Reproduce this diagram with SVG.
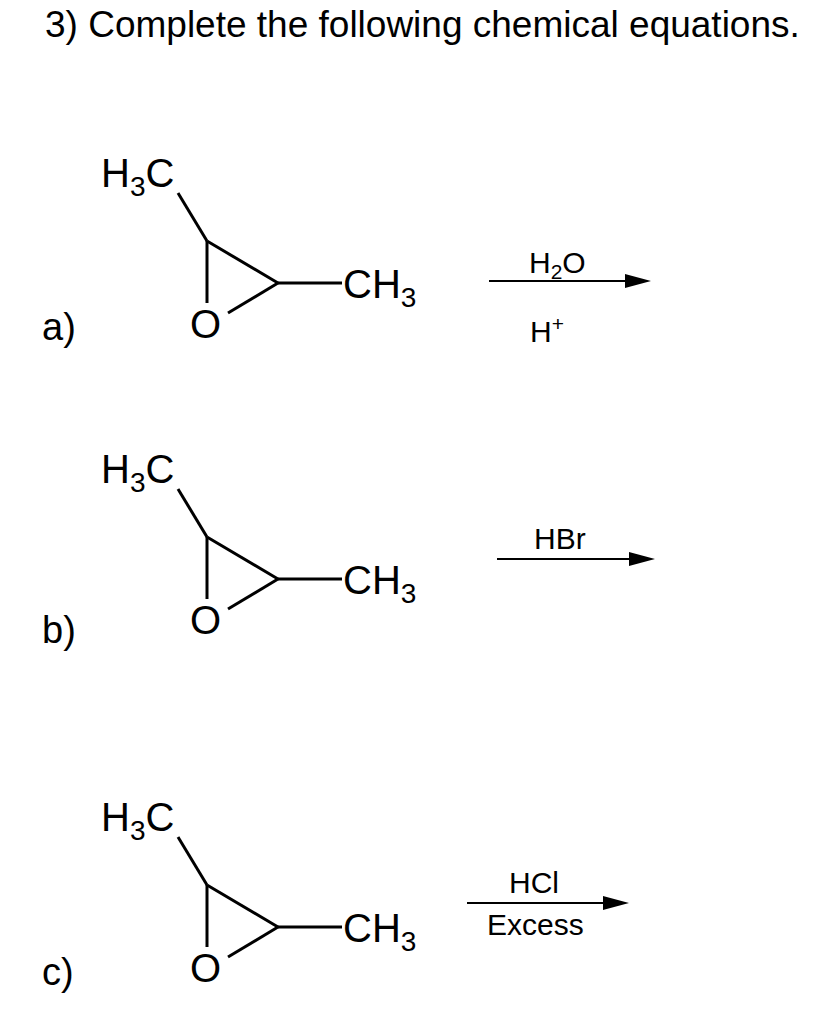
<svg xmlns="http://www.w3.org/2000/svg" width="826" height="1024" viewBox="0 0 826 1024">
<style>
text{font-family:"Liberation Sans",Arial,sans-serif;fill:#000}
.m{font-size:40px}
.r{font-size:30px}
.l{font-size:38px}
line{stroke:#000;stroke-width:3}
.a{stroke-width:2}
</style>
<defs>
<marker id="ah" markerWidth="26" markerHeight="14" refX="1" refY="7" orient="auto" markerUnits="userSpaceOnUse"><path d="M0,0 L26,7 L0,14 Z" fill="#000"/></marker>
<g id="epox">
<text class="m" x="101" y="187">H<tspan font-size="28" dy="9">3</tspan><tspan dy="-9">C</tspan></text>
<line x1="178" y1="193" x2="207" y2="241"/>
<line x1="207" y1="241" x2="278" y2="283"/>
<line x1="207" y1="241" x2="207" y2="303"/>
<line x1="228" y1="313" x2="278" y2="283"/>
<line x1="278" y1="283" x2="342" y2="283"/>
<text class="m" x="190" y="338">O</text>
<text class="m" x="343" y="298">CH<tspan font-size="28" dy="9">3</tspan></text>
</g>
</defs>
<text x="45" y="37" font-size="37">3) Complete the following chemical equations.</text>
<g id="mol-a"><use href="#epox"/></g>
<g id="mol-b"><use href="#epox" transform="translate(0,296)"/></g>
<g id="mol-c"><use href="#epox" transform="translate(0,644)"/></g>
<text class="l" x="42" y="340">a)</text>
<text class="l" x="42" y="643">b)</text>
<text class="l" x="42" y="985">c)</text>
<g id="connectors">
<line class="a" x1="489" y1="281" x2="626" y2="281" marker-end="url(#ah)"/>
<line class="a" x1="497" y1="559" x2="630" y2="559" marker-end="url(#ah)"/>
<line class="a" x1="467" y1="903" x2="604" y2="903" marker-end="url(#ah)"/>
</g>
<g id="labels">
<text class="r" x="529" y="273">H<tspan font-size="21" dy="6">2</tspan><tspan dy="-6">O</tspan></text>
<text class="r" x="530" y="342">H<tspan font-size="21" dy="-11">+</tspan></text>
<text class="r" x="534" y="549">HBr</text>
<text class="r" x="509" y="893">HCl</text>
<text class="r" x="487" y="935">Excess</text>
</g>
</svg>
